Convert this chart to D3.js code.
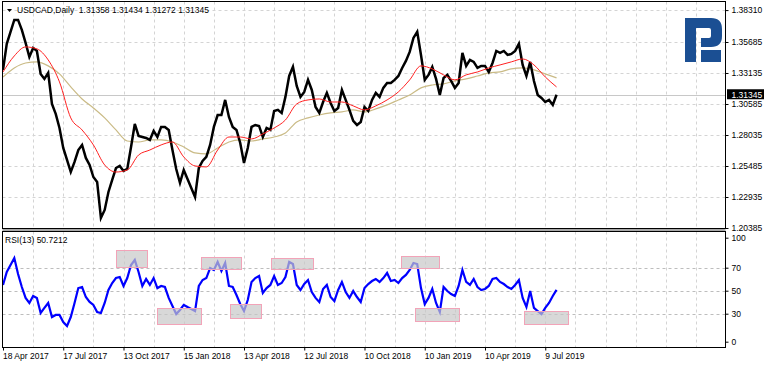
<!DOCTYPE html>
<html lang="en">
<head>
<meta charset="UTF-8">
<title>USDCAD Daily</title>
<script src="https://cdn.jsdelivr.net/npm/d3@7"></script>
<style>
  html, body { margin: 0; padding: 0; background: #fff; }
  svg { display: block; font-family: "Liberation Sans", Arial, sans-serif; font-size: 8.5px; }
</style>
</head>
<body>
<svg class="chart"></svg>
<script>
    // ---- data ----
    const symbol = "USDCAD,Daily";
    const ohlc = [1.31358, 1.31434, 1.31272, 1.31345];
    const rsiPeriod = 13;
    const rsiLast = 50.7212;

    // one close every 4 bars, first bar = 18 Apr 2017
    const closes = [
        1.3339, 1.3553, 1.3652, 1.3750, 1.3750, 1.3668, 1.3561, 1.3446, 1.3520, 1.3495,
        1.3306, 1.3265, 1.3314, 1.3059, 1.2977, 1.2861, 1.2697, 1.2598, 1.2499, 1.2582,
        1.2680, 1.2722, 1.2615, 1.2557, 1.2458, 1.2417, 1.2121, 1.2187, 1.2335, 1.2434,
        1.2532, 1.2549, 1.2508, 1.2524, 1.2705, 1.2894, 1.2796, 1.2787, 1.2779, 1.2763,
        1.2837, 1.2787, 1.2870, 1.2870, 1.2845, 1.2680, 1.2524, 1.2409, 1.2516, 1.2442,
        1.2368, 1.2294, 1.2532, 1.2590, 1.2623, 1.2722, 1.2870, 1.2968, 1.2968, 1.3092,
        1.2952, 1.2870, 1.2845, 1.2738, 1.2573, 1.2697, 1.2870, 1.2886, 1.2878, 1.2787,
        1.2861, 1.2845, 1.3001, 1.3010, 1.2985, 1.3117, 1.3289, 1.3364, 1.3207, 1.3117,
        1.3158, 1.3257, 1.3174, 1.3034, 1.2985, 1.3075, 1.3150, 1.3067, 1.3001, 1.3026,
        1.3174, 1.3092, 1.3010, 1.2919, 1.2886, 1.2911, 1.3034, 1.3001, 1.3092, 1.3150,
        1.3117, 1.3191, 1.3232, 1.3232, 1.3257, 1.3289, 1.3355, 1.3413, 1.3487, 1.3602,
        1.3652, 1.3462, 1.3257, 1.3298, 1.3364, 1.3265, 1.3133, 1.3273, 1.3298, 1.3248,
        1.3191, 1.3232, 1.3479, 1.3372, 1.3421, 1.3405, 1.3355, 1.3372, 1.3372, 1.3322,
        1.3396, 1.3495, 1.3479, 1.3495, 1.3462, 1.3470, 1.3495, 1.3553, 1.3380, 1.3289,
        1.3405, 1.3248, 1.3133, 1.3108, 1.3075, 1.3092, 1.3051, 1.31345
    ];

    // moving averages, one value every 12 bars
    const maFast = [
        1.3322, 1.3454, 1.3528, 1.3512, 1.3421, 1.3240, 1.2944, 1.2845, 1.2722, 1.2557,
        1.2499, 1.2516, 1.2639, 1.2680, 1.2722, 1.2746, 1.2623, 1.2549, 1.2541, 1.2680,
        1.2787, 1.2787, 1.2771, 1.2812, 1.2861, 1.2927, 1.3059, 1.3092, 1.3100, 1.3075,
        1.3075, 1.3043, 1.3010, 1.3043, 1.3092, 1.3158, 1.3257, 1.3372, 1.3347, 1.3298,
        1.3257, 1.3298, 1.3322, 1.3355, 1.3380, 1.3405, 1.3429, 1.3380, 1.3281, 1.3199
    ];
    const maSlow = [
        1.3281, 1.3355, 1.3396, 1.3405, 1.3372, 1.3306, 1.3199, 1.3100, 1.3026, 1.2944,
        1.2845, 1.2754, 1.2746, 1.2763, 1.2763, 1.2746, 1.2705, 1.2656, 1.2648, 1.2697,
        1.2746, 1.2763, 1.2754, 1.2771, 1.2787, 1.2820, 1.2911, 1.2944, 1.2968, 1.2985,
        1.2993, 1.3010, 1.2993, 1.3018, 1.3051, 1.3092, 1.3133, 1.3191, 1.3215, 1.3224,
        1.3248, 1.3265, 1.3289, 1.3314, 1.3322, 1.3347, 1.3355, 1.3339, 1.3306, 1.3273
    ];

    // RSI, same sampling as closes
    const rsi = [
        55.0, 66.3, 72.3, 78.4, 64.5, 53.2, 43.7, 39.3, 45.4, 43.7,
        30.6, 35.0, 39.3, 27.1, 28.9, 28.9, 22.8, 19.3, 27.1, 39.3,
        52.3, 53.2, 44.5, 40.2, 37.6, 31.5, 30.6, 39.3, 50.6, 56.7,
        61.0, 61.9, 54.1, 61.0, 72.3, 76.7, 66.3, 54.1, 60.2, 55.0,
        61.0, 52.3, 54.1, 53.2, 43.7, 36.7, 29.7, 33.2, 37.6, 35.8,
        34.1, 32.3, 54.1, 59.3, 61.0, 69.7, 68.0, 75.0, 67.1, 74.1,
        54.1, 53.2, 46.3, 38.4, 32.3, 41.9, 57.6, 61.0, 62.8, 48.0,
        52.3, 55.0, 62.8, 55.0, 56.7, 61.9, 75.0, 73.2, 55.0, 50.6,
        55.8, 59.3, 48.9, 43.7, 40.2, 51.5, 55.0, 44.5, 41.0, 50.6,
        57.6, 48.9, 43.7, 49.7, 44.5, 40.2, 52.3, 55.8, 58.4, 60.2,
        57.6, 61.0, 65.4, 58.4, 59.3, 56.7, 61.0, 63.7, 68.0, 74.1,
        73.2, 52.3, 38.4, 43.7, 51.5, 39.3, 31.5, 53.2, 49.7, 47.1,
        45.4, 54.1, 68.0, 57.6, 55.0, 60.2, 53.2, 50.6, 51.5, 54.1,
        60.2, 61.0, 57.6, 55.8, 53.2, 51.5, 55.0, 59.3, 43.7, 35.8,
        49.7, 35.0, 32.3, 29.7, 35.0, 39.3, 45.4, 50.72
    ];

    // highlighted RSI zones (bar range, RSI range)
    const zoneFrom = [120, 164, 210, 241, 285, 423, 438, 553];
    const zoneTo = [153, 211, 253, 274, 330, 463, 485, 600];
    const zoneHigh = [85.4, 35.0, 79.3, 38.4, 78.4, 80.2, 35.0, 32.3];
    const zoneLow = [70.6, 21.0, 69.0, 26.3, 69.0, 69.7, 23.6, 21.0];

    const priceTicks = [1.38310, 1.35685, 1.33135, 1.30585, 1.28035, 1.25485, 1.22935, 1.20385];
    const rsiTicks = [100, 70, 50, 30, 0];
    const rsiLevels = [70, 50, 30];
    const dateLabels = ["18 Apr 2017", "17 Jul 2017", "13 Oct 2017", "15 Jan 2018", "13 Apr 2018",
        "12 Jul 2018", "10 Oct 2018", "10 Jan 2019", "10 Apr 2019", "9 Jul 2019"];

    // ---- layout ----
    const width = 768, height = 368;
    const left = 2.5, right = 725.5;
    const mainTop = 1.5, mainBottom = 228.5;
    const subTop = 231.5, subBottom = 347.5;
    const barsPerClose = 4, barsPerMa = 12, barsPerLabel = 64, barsPerGrid = 32, barsVisible = 768;

    const svg = d3.select(".chart").attr("width", width).attr("height", height);

    const x = d3.scaleLinear().domain([0, barsVisible]).range([3, 726]);
    const yPrice = d3.scaleLinear().domain([1.20303, 1.38975]).range([229, 2]);
    const yRsi = d3.scaleLinear().domain([0, 100]).range([348.2, 233.2]);

    const defs = svg.append("defs");
    defs.append("clipPath").attr("id", "clipMain").append("rect")
        .attr("x", left).attr("y", mainTop).attr("width", right - left).attr("height", mainBottom - mainTop);
    defs.append("clipPath").attr("id", "clipSub").append("rect")
        .attr("x", left).attr("y", subTop).attr("width", right - left).attr("height", subBottom - subTop);

    // ---- grid ----
    const gridBars = d3.range(barsPerGrid, barsVisible, barsPerGrid);
    const grid = svg.append("g").attr("stroke", "#d4d4d4").attr("stroke-dasharray", "3,3");
    grid.selectAll(".vm").data(gridBars).join("line")
        .attr("x1", d => Math.round(x(d)) + 0.5).attr("x2", d => Math.round(x(d)) + 0.5)
        .attr("y1", mainTop).attr("y2", mainBottom);
    grid.selectAll(".vs").data(gridBars).join("line")
        .attr("x1", d => Math.round(x(d)) + 0.5).attr("x2", d => Math.round(x(d)) + 0.5)
        .attr("y1", subTop).attr("y2", subBottom);
    grid.selectAll(".hm").data(priceTicks.slice(0, -1)).join("line")
        .attr("x1", left).attr("x2", right)
        .attr("y1", d => Math.round(yPrice(d)) + 0.5).attr("y2", d => Math.round(yPrice(d)) + 0.5);
    grid.selectAll(".hs").data(rsiLevels).join("line")
        .attr("x1", left).attr("x2", right)
        .attr("y1", d => Math.round(yRsi(d)) + 0.5).attr("y2", d => Math.round(yRsi(d)) + 0.5)
        .attr("stroke", "#bdbdbd");

    // ---- logo ----
    const logo = svg.append("g").attr("fill", "#1b4f93");
    logo.append("rect").attr("x", 685).attr("y", 18).attr("width", 11).attr("height", 44);
    logo.append("path").attr("d",
        "M696,18 H711 Q722,18 722,29 V36 Q722,47 711,47 H701 V38 H709 Q711,38 711,36 V30 Q711,28 709,28 H696 Z");
    logo.append("path").attr("d", "M701,50 H721 L721,62 H701 Z");

    // ---- price panel ----
    const mainG = svg.append("g").attr("clip-path", "url(#clipMain)");

    mainG.append("line")
        .attr("x1", left).attr("x2", right)
        .attr("y1", Math.round(yPrice(ohlc[3])) + 0.5).attr("y2", Math.round(yPrice(ohlc[3])) + 0.5)
        .attr("stroke", "#c8c8c8");

    const maLine = d3.line()
        .x((d, i) => x(i * barsPerMa))
        .y(d => yPrice(d))
        .curve(d3.curveMonotoneX);

    mainG.append("path").datum(maSlow).attr("d", maLine)
        .attr("fill", "none").attr("stroke", "#cabb86").attr("stroke-width", 1.2);

    mainG.append("path").datum(closes)
        .attr("d", d3.line().x((d, i) => x(i * barsPerClose)).y(d => yPrice(d)))
        .attr("fill", "none").attr("stroke", "#000").attr("stroke-width", 2.5)
        .attr("stroke-linejoin", "miter");

    mainG.append("path").datum(maFast).attr("d", maLine)
        .attr("fill", "none").attr("stroke", "#ff2020").attr("stroke-width", 1);

    // ---- RSI panel ----
    const subG = svg.append("g").attr("clip-path", "url(#clipSub)");
    subG.append("path").datum(rsi)
        .attr("d", d3.line().x((d, i) => x(i * barsPerClose)).y(d => yRsi(d)))
        .attr("fill", "none").attr("stroke", "#0000ff").attr("stroke-width", 2.2);

    subG.selectAll(".zone").data(zoneFrom).join("rect")
        .attr("x", d => Math.round(x(d)) + 0.5)
        .attr("width", (d, i) => Math.round(x(zoneTo[i]) - x(d)))
        .attr("y", (d, i) => Math.round(yRsi(zoneHigh[i])) + 0.5)
        .attr("height", (d, i) => Math.round(yRsi(zoneLow[i]) - yRsi(zoneHigh[i])))
        .attr("fill", "rgba(200,200,200,0.7)")
        .attr("stroke", "#f2a3b8").attr("stroke-width", 1);

    // ---- frames ----
    svg.append("rect").attr("x", left).attr("y", mainTop)
        .attr("width", right - left).attr("height", mainBottom - mainTop)
        .attr("fill", "none").attr("stroke", "#000");
    svg.append("rect").attr("x", left).attr("y", mainBottom + 0.5)
        .attr("width", right - left).attr("height", subTop - mainBottom - 1)
        .attr("fill", "#a8a8a8");
    svg.append("rect").attr("x", left).attr("y", subTop)
        .attr("width", right - left).attr("height", subBottom - subTop)
        .attr("fill", "none").attr("stroke", "#000");

    // ---- axes ----
    const styleAxis = g => {
        g.select(".domain").remove();
        g.selectAll("text").attr("font-family", "'Liberation Sans', Arial, sans-serif")
            .attr("font-size", "8.5px").attr("fill", "#000");
        g.selectAll("line").attr("stroke", "#000");
    };

    svg.append("g").attr("transform", `translate(${right},0)`)
        .call(d3.axisRight(yPrice).tickValues(priceTicks).tickFormat(d3.format(".5f")).tickSize(3).tickPadding(3))
        .call(styleAxis);

    const rsiAxis = svg.append("g").attr("transform", `translate(${right},0)`)
        .call(d3.axisRight(yRsi).tickValues(rsiTicks).tickFormat(d3.format("d")).tickSize(3).tickPadding(3))
        .call(styleAxis);
    rsiAxis.selectAll(".tick").filter(d => d === 100).attr("transform", `translate(0,${yRsi(100) + 5})`);
    rsiAxis.selectAll(".tick").filter(d => d === 0).attr("transform", `translate(0,${yRsi(0) - 6})`);

    const xAxis = svg.append("g").attr("transform", `translate(0,${subBottom})`)
        .call(d3.axisBottom(x)
            .tickValues(dateLabels.map((d, i) => i * barsPerLabel))
            .tickFormat((d, i) => dateLabels[i]).tickSize(3).tickPadding(2))
        .call(styleAxis);
    xAxis.selectAll("text").attr("text-anchor", "start").attr("dx", "-0.5");

    // current price tag
    const tagY = yPrice(ohlc[3]);
    svg.append("rect").attr("x", right + 1.5).attr("y", tagY - 5.5).attr("width", 37).attr("height", 10)
        .attr("fill", "#000");
    svg.append("text").attr("x", right + 6).attr("y", tagY).attr("dy", "0.35em")
        .attr("fill", "#fff").text(ohlc[3].toFixed(5));

    // ---- titles ----
    svg.append("path").attr("d", "M7,9 L12,9 L9.5,12 Z").attr("fill", "#000");
    svg.append("text").attr("x", 17).attr("y", 13).style("white-space", "pre")
        .text(`${symbol}  ${ohlc.map(d => d.toFixed(5)).join(" ")}`);
    svg.append("text").attr("x", 5).attr("y", 243)
        .text(`RSI(${rsiPeriod}) ${rsiLast.toFixed(4)}`);
</script>
</body>
</html>
